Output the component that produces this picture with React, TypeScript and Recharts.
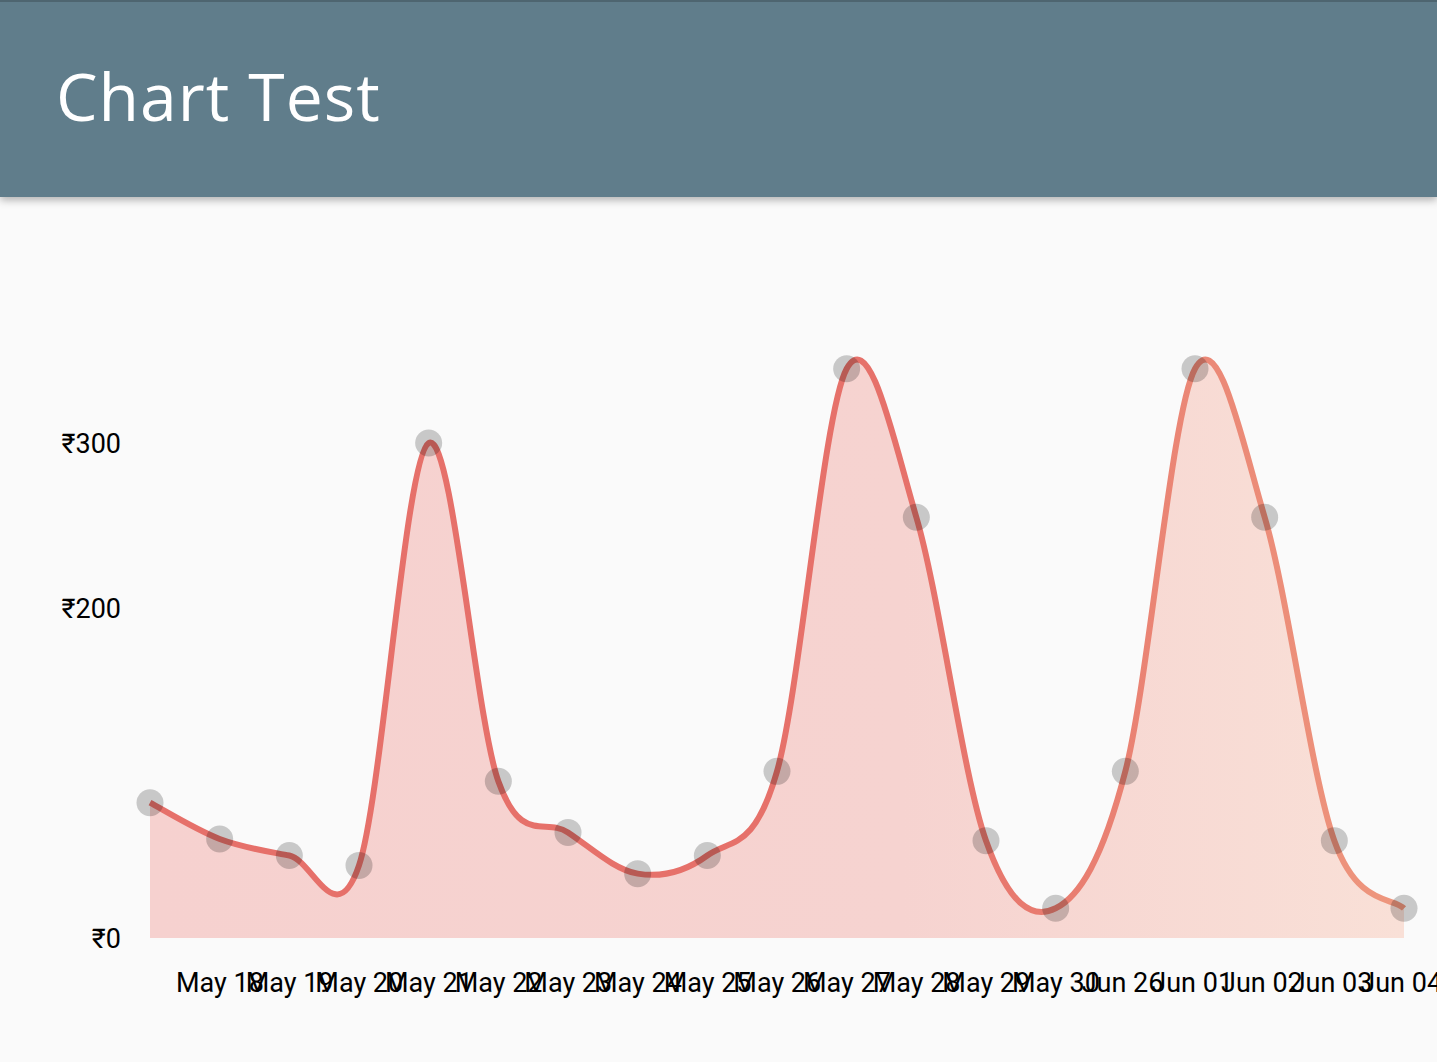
import React from "react";
import { AreaChart, Area, XAxis, YAxis } from "recharts";

const days = [
  "May 18", "May 19", "May 20", "May 21", "May 22", "May 23", "May 24",
  "May 25", "May 26", "May 27", "May 28", "May 29", "May 30", "Jun 26",
  "Jun 01", "Jun 02", "Jun 03", "Jun 04", "",
];
const amounts = [82, 60, 50, 44, 300, 95, 64, 39, 50, 101, 345, 255, 59, 18, 101, 345, 255, 59, 18];
const yTicks = [0, 200, 300];

const data = days.map((day, i) => ({ day, value: amounts[i] }));

// Uniform Catmull-Rom curve (cardinal, tension 0) as a curve factory for Recharts
const catmullRom = (context: any) => {
  let pts: number[][] = [];
  let line: number = NaN;
  return {
    areaStart() { line = 0; },
    areaEnd() { line = NaN; },
    lineStart() { pts = []; },
    lineEnd() {
      const n = pts.length;
      if (n) {
        if (line) context.lineTo(pts[0][0], pts[0][1]);
        else context.moveTo(pts[0][0], pts[0][1]);
        for (let i = 0; i < n - 1; i++) {
          const p0 = pts[Math.max(i - 1, 0)];
          const p1 = pts[i];
          const p2 = pts[i + 1];
          const p3 = pts[Math.min(i + 2, n - 1)];
          context.bezierCurveTo(
            p1[0] + (p2[0] - p0[0]) / 6,
            p1[1] + (p2[1] - p0[1]) / 6,
            p2[0] - (p3[0] - p1[0]) / 6,
            p2[1] - (p3[1] - p1[1]) / 6,
            p2[0],
            p2[1]
          );
        }
      }
      if (line || (line !== 0 && n === 1)) context.closePath();
      line = 1 - line;
    },
    point(x: number, y: number) { pts.push([+x, +y]); },
  };
};

const XTick = (props: any) => {
  const { x, y, payload } = props;
  return (
    <text x={x + 26} y={y} dy="0.71em" textAnchor="start" fontSize={27} fontFamily="Roboto" fill="#000">
      {payload.value}
    </text>
  );
};

export default function App() {
  return (
    <div style={{ position: "absolute", left: 0, top: 0, width: 1437, height: 1062, background: "#FAFAFA", overflow: "hidden" }}>
      <div
        style={{
          position: "absolute",
          left: 0,
          top: 0,
          width: 1437,
          height: 197,
          background: "#607D8B",
          borderTop: "2px solid #4E6570",
          boxSizing: "border-box",
          boxShadow: "0 3px 8px rgba(0,0,0,0.3)",
          zIndex: 2,
        }}
      >
        <div
          style={{
            position: "absolute",
            left: 56,
            top: 48,
            fontFamily: "'Open Sans', sans-serif",
            fontSize: 66,
            fontWeight: 500,
            letterSpacing: 1,
            color: "#FFFFFF",
            lineHeight: "normal",
            whiteSpace: "nowrap",
          }}
        >
          Chart Test
        </div>
      </div>
      <div style={{ position: "absolute", left: 0, top: 197 }}>
        <AreaChart width={1437} height={821} data={data} margin={{ top: 81, right: 33, bottom: 0, left: 0 }}>
          <defs>
            <linearGradient id="lineGrad" x1="0" y1="0" x2="1" y2="0">
              <stop offset="0%" stopColor="#E6706A" />
              <stop offset="60%" stopColor="#E6716A" />
              <stop offset="100%" stopColor="#EE977E" />
            </linearGradient>
            <linearGradient id="fillGrad" x1="0" y1="0" x2="1" y2="0">
              <stop offset="0%" stopColor="#F6D1CF" />
              <stop offset="60%" stopColor="#F6D3D0" />
              <stop offset="100%" stopColor="#F9E0D7" />
            </linearGradient>
          </defs>
          <XAxis
            dataKey="day"
            interval={0}
            height={80}
            axisLine={false}
            tickLine={false}
            tickSize={0}
            tickMargin={35}
            tick={<XTick />}
          />
          <YAxis
            width={150}
            domain={[0, 400]}
            ticks={yTicks}
            axisLine={false}
            tickLine={false}
            tickSize={0}
            tickMargin={29}
            tickFormatter={(v: number) => `₹${v}`}
            tick={{ fill: "#000", fontSize: 27, fontFamily: "Roboto" }}
          />
          <Area
            type={catmullRom as any}
            dataKey="value"
            stroke="url(#lineGrad)"
            strokeWidth={6}
            fill="url(#fillGrad)"
            fillOpacity={1}
            dot={{ r: 13.5, fill: "rgba(0,0,0,0.2)", stroke: "none", strokeWidth: 0 }}
            activeDot={false}
            isAnimationActive={false}
          />
        </AreaChart>
      </div>
    </div>
  );
}
